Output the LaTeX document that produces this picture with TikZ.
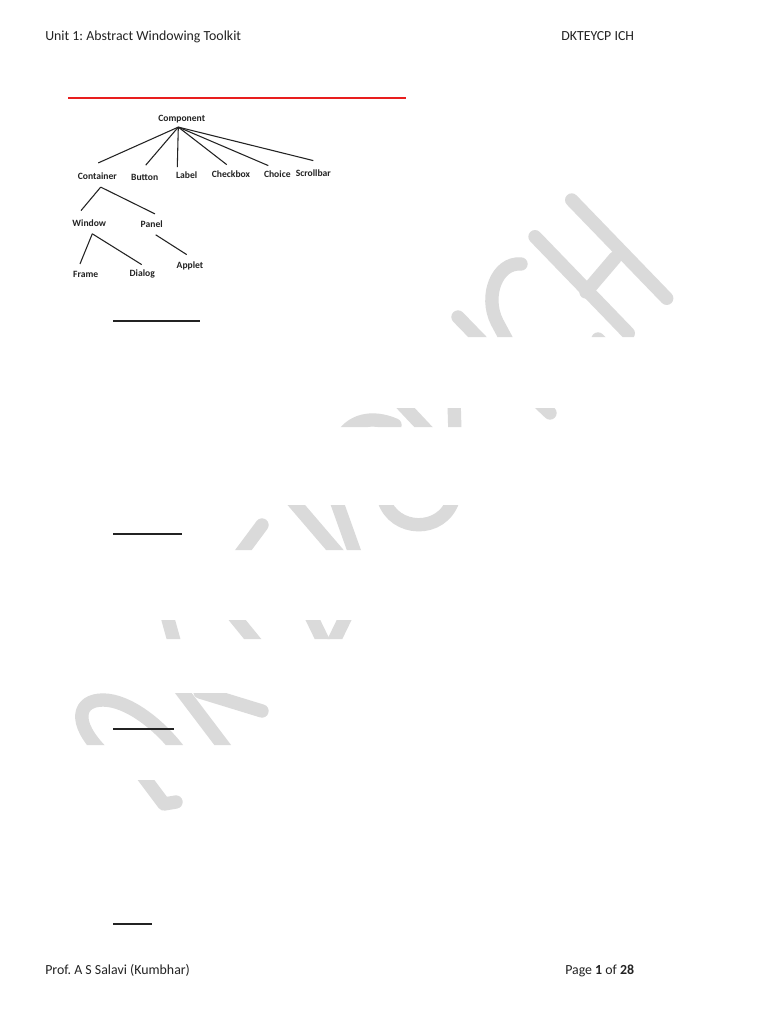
\documentclass[tikz,border=0pt]{standalone}
\usepackage{fontspec}
\setmainfont{Carlito}
\usetikzlibrary{calc}
\definecolor{wm}{RGB}{218,218,218}
\definecolor{ink}{RGB}{35,35,35}
\definecolor{redrule}{RGB}{232,30,30}
\frenchspacing
\begin{document}
\begin{tikzpicture}[x=0.75pt,y=-0.75pt,
  lbl/.style={font=\fontsize{7.2}{8}\selectfont\bfseries, inner sep=1pt, text height=0.7em, text depth=0.2em, text=ink},
  edge/.style={draw=ink, line width=0.8pt},
  hdr/.style={font=\fontsize{10.4}{12}\selectfont, anchor=base west, inner sep=0pt, text=ink},
  wmstroke/.style={draw=wm, line width=10pt, line cap=round, line join=round},
  uline/.style={draw=ink, line width=1pt}]
\useasboundingbox (0,0) rectangle (768,1024);
\fill[white] (0,0) rectangle (768,1024);

% watermark fragments
\begin{scope}
\clip (0,150) rectangle (768,337) (0,408) rectangle (768,427) (0,505) rectangle (768,550)
      (0,620) rectangle (768,639) (0,693) rectangle (768,745) (0,780) rectangle (768,830);
\draw[wmstroke] (571.7,200) -- (666.7,298.3);
\draw[wmstroke] (535,236.7) -- (628.3,333.3);
\draw[wmstroke] (586,292) -- (615,258);
\draw[wmstroke] (521,264) .. controls (497,262) and (484,296) .. (497,322) -- (512,350);
\draw[wmstroke] (458,317) -- (492,352);
\draw[wmstroke] (598,339) -- (615,356);
\draw[wmstroke] (340,440) .. controls (350,420) and (372,415) .. (395,425);
\draw[wmstroke] (398,400) -- (430,434);
\draw[wmstroke] (454,400) -- (455,435);
\draw[wmstroke] (532,396) -- (550,413);
\draw[wmstroke] (236,560) -- (262,525);
\draw[wmstroke] (292,500) -- (340,556);
\draw[wmstroke] (336,500) -- (356,556);
\draw[wmstroke] (384,500) .. controls (394,532) and (442,534) .. (453,500);
\draw[wmstroke] (166,612) -- (176,648);
\draw[wmstroke] (229,610) -- (260,648);
\draw[wmstroke] (309,612) -- (325,645);
\draw[wmstroke] (348,612) -- (332,645);
\draw[wmstroke] (102,752) .. controls (72,722) and (78,700) .. (103,700) .. controls (128,700) and (160,725) .. (180,752);
\draw[wmstroke] (178,686) -- (228,752);
\draw[wmstroke] (200,692) -- (262,711);
\draw[wmstroke] (140,772) -- (164,804) -- (176,802);
\end{scope}

% header and footer
\node[hdr] (hl) at (45,41) {Unit 1: Abstract Windowing Toolkit};
\node[hdr] (hr) at (561,41) {DKTEYCP ICH};
\node[hdr] (fl) at (45,974) {Prof. A S Salavi (Kumbhar)};
\node[hdr] (fr) at (565,974) {Page \textbf{1} of \textbf{28}};

% red rule
\draw[draw=redrule, line width=1pt] (68,98) -- (406,98);

% hierarchy
\node[lbl] (comp) at (181.7,118.3) {Component};
\node[lbl] (cont) at (97.3,176) {Container};
\node[lbl] (butt) at (144.7,176.7) {Button};
\node[lbl] (labl) at (186.7,175) {Label};
\node[lbl] (chkb) at (231,174) {Checkbox};
\node[lbl] (choi) at (277.3,174) {Choice};
\node[lbl] (scrl) at (313.3,172.7) {Scrollbar};
\node[lbl] (wind) at (89.3,222.7) {Window};
\node[lbl] (pane) at (151.7,224) {Panel};
\node[lbl] (fram) at (85.7,274) {Frame};
\node[lbl] (dial) at (142.3,273) {Dialog};
\node[lbl] (appl) at (190,265) {Applet};

\coordinate (cs) at ($(comp.south)+(-3.4,1.2)$);
\draw[edge] (cs) -- ($(cont.north)+(1,-5.5)$);
\draw[edge] (cs) -- ($(butt.north)+(1,-3.9)$);
\draw[edge] (cs) -- ($(labl.north)+(-9.4,-0.2)$);
\draw[edge] (cs) -- ($(chkb.north)+(-4.3,-1.8)$);
\draw[edge] (cs) -- ($(choi.north)+(-9,-0.8)$);
\draw[edge] (cs) -- ($(scrl.north)+(0,-4.5)$);
\coordinate (cts) at ($(cont.south)+(3.4,3.5)$);
\draw[edge] (cts) -- ($(wind.north)+(-8.3,-4.5)$);
\draw[edge] (cts) -- ($(pane.north)+(3.3,-2.5)$);
\coordinate (ws) at ($(wind.south)+(3,3.5)$);
\draw[edge] (ws) -- ($(fram.north)+(-5.7,-2.5)$);
\draw[edge] (ws) -- ($(dial.north)+(-0.6,-0.8)$);
\draw[edge] ($(pane.south)+(4,3.2)$) -- ($(appl.north)+(-3.3,-2.8)$);

% heading underlines
\draw[uline] (113,321) -- (200,321);
\draw[uline] (113,534) -- (182,534);
\draw[uline] (113,729) -- (174,729);
\draw[uline] (113,924) -- (152,924);
\end{tikzpicture}
\end{document}
